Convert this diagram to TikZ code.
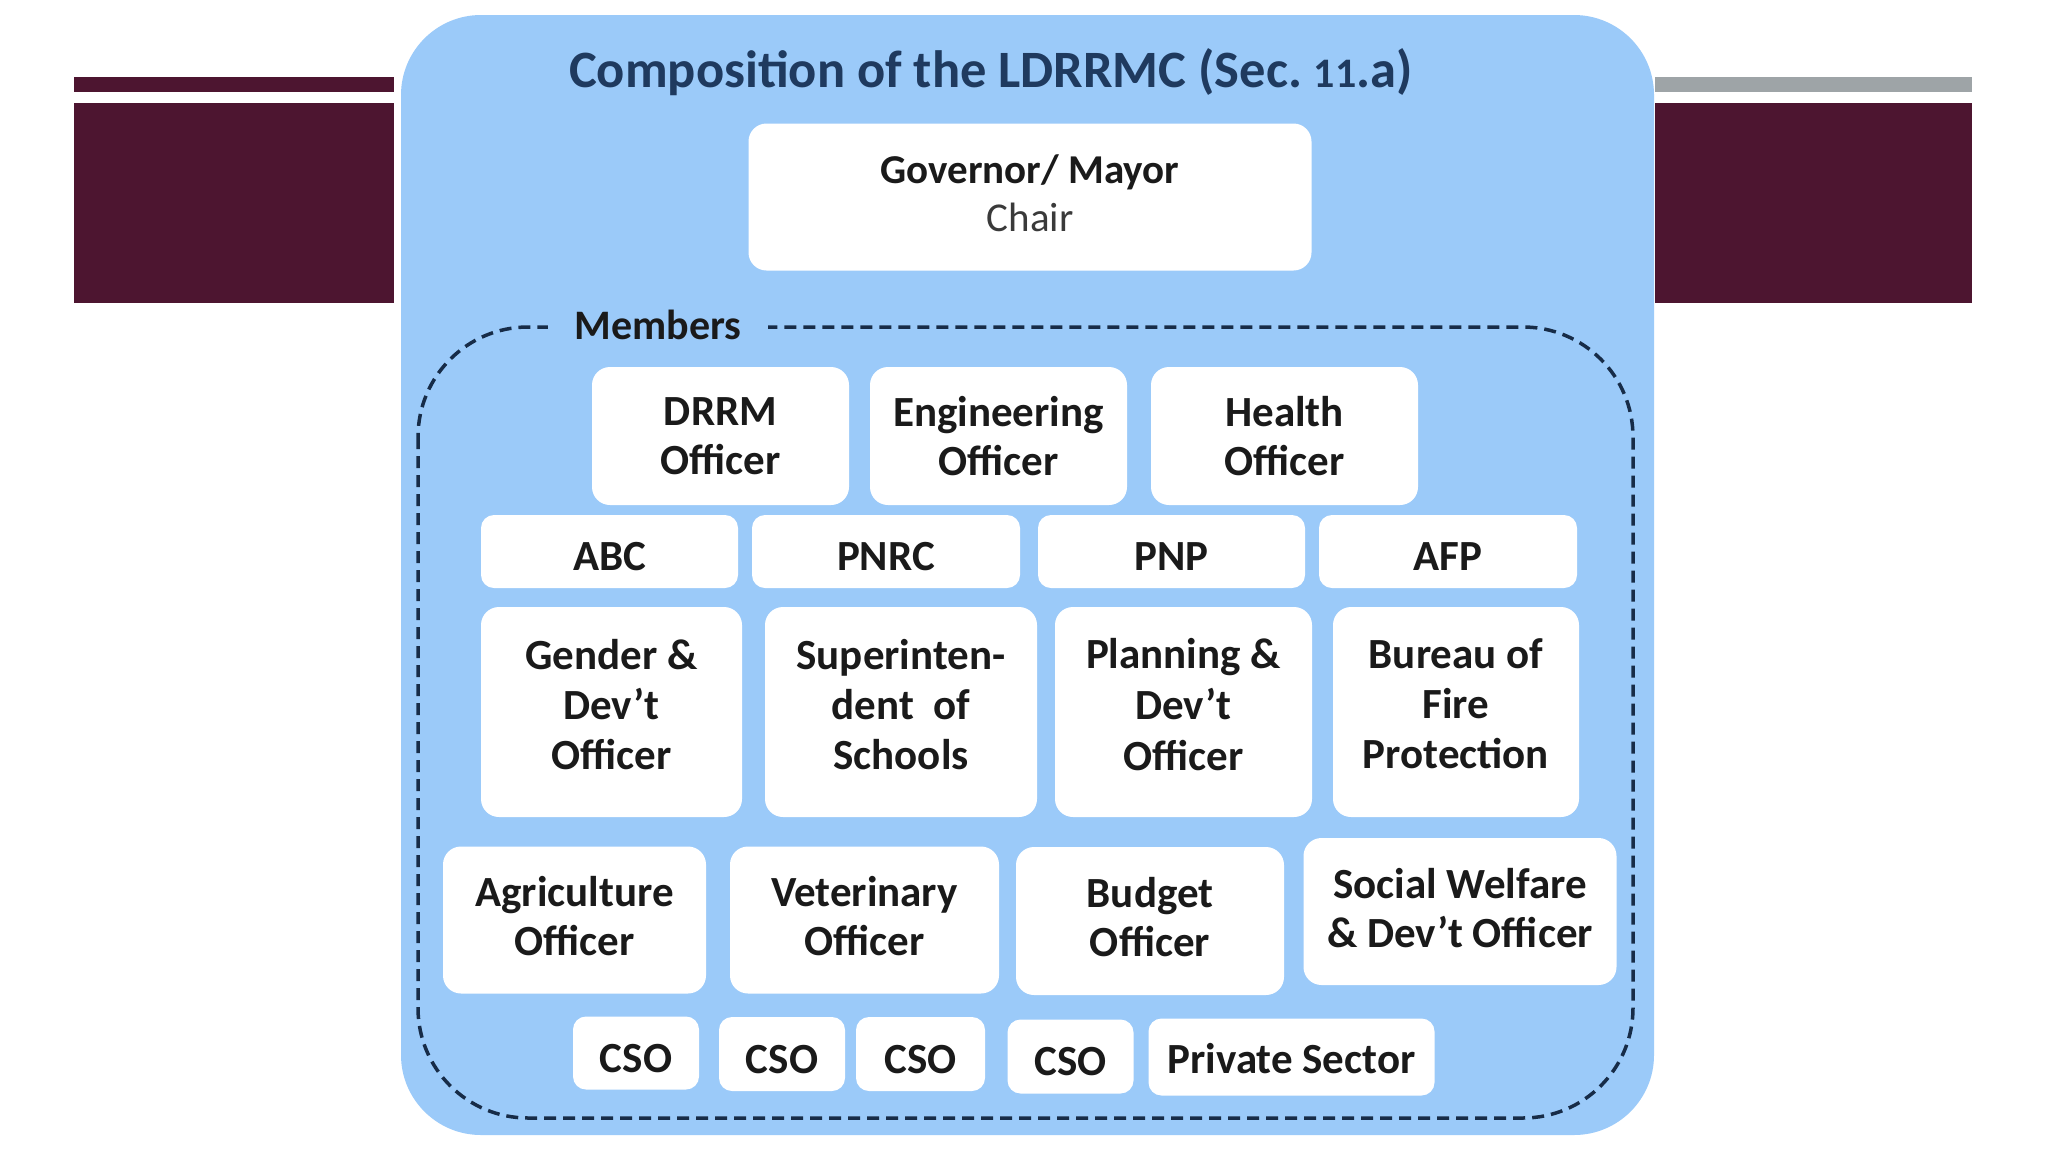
\documentclass[tikz,border=0pt]{standalone}
\usepackage{fontspec}
\setmainfont{Carlito}
\definecolor{maroon}{HTML}{4D1530}
\definecolor{barGray}{HTML}{9EA4A7}
\definecolor{panel}{HTML}{9BCAF9}
\definecolor{navy}{HTML}{1F3A5F}
\definecolor{ink}{HTML}{1A1A1A}
\definecolor{chairc}{HTML}{3A3A3A}
\definecolor{dashc}{HTML}{172C48}
\begin{document}
\frenchspacing
\begin{tikzpicture}[x=1pt,y=-1pt,
  cell/.style={fill=white, rounded corners=18pt, align=center, text=ink, inner sep=0pt,
    font=\bfseries\fontsize{43}{49}\selectfont},
  small/.style={cell, rounded corners=13pt, text height=38pt, text depth=0pt},
  tall/.style={cell, font=\bfseries\fontsize{43}{50}\selectfont, text depth=16pt},
  mid/.style={cell, text depth=8pt},
]
\useasboundingbox[fill=white] (0,0) rectangle (2048,1152);
% side decorations
\fill[maroon] (74,77) rectangle (394,92);
\fill[maroon] (74,103) rectangle (394,303);
\fill[barGray] (1655,77) rectangle (1972,92);
\fill[maroon] (1655,103) rectangle (1972,303);
% panel
\fill[panel, rounded corners=80pt] (401,15) rectangle (1654,1135);
% title
\node[font=\bfseries\fontsize{52.5}{60}\selectfont, text=navy, anchor=base, inner sep=0pt]
  (title) at (991,87) {Composition of the LDRRMC (Sec. {\fontsize{42}{42}\selectfont 11}.a)};
% chair
\node[cell, minimum width=563pt, minimum height=147pt, text depth=8pt,
  font=\bfseries\fontsize{41}{48}\selectfont]
  (gov) at (1030,197) {Governor/ Mayor\\{\mdseries\color{chairc}Chair}};
% members frame
\draw[dashc, line width=3.5pt, dash pattern=on 12pt off 7pt, rounded corners=110pt]
  (418,327) rectangle (1633,1118);
\node[fill=panel, minimum width=220pt, minimum height=44pt, inner sep=0pt, text=ink,
  font=\bfseries\fontsize{42}{49}\selectfont] (members) at (658,325) {Members};
% row 1
\node[cell, minimum width=257pt, minimum height=138pt] (drrm) at (720.5,436) {DRRM\\Officer};
\node[cell, minimum width=257pt, minimum height=138pt] (eng) at (998.5,436) {Engineering\\Officer};
\node[cell, minimum width=267pt, minimum height=138pt] (health) at (1284.5,436) {Health\\Officer};
% row 2
\node[small, minimum width=257pt, minimum height=73pt] (abc) at (609.5,551.5) {ABC};
\node[small, minimum width=268pt, minimum height=73pt] (pnrc) at (886,551.5) {PNRC};
\node[small, minimum width=267pt, minimum height=73pt] (pnp) at (1171.5,551.5) {PNP};
\node[small, minimum width=258pt, minimum height=73pt] (afp) at (1448,551.5) {AFP};
% row 3
\node[tall, minimum width=261pt, minimum height=210pt] (gad) at (611.5,712) {Gender \&\\Dev’t\\Officer};
\node[tall, minimum width=272pt, minimum height=210pt] (sup) at (901,712) {Superinten-\\dent~~of\\Schools};
\node[tall, minimum width=257pt, minimum height=210pt, font=\bfseries\fontsize{43}{51}\selectfont] (plan) at (1183.5,712) {Planning \&\\Dev’t\\Officer};
\node[tall, minimum width=246pt, minimum height=210pt] (bfp) at (1456,712) {Bureau of\\Fire\\Protection};
% row 4
\node[mid, minimum width=263pt, minimum height=147pt] (agri) at (574.5,920) {Agriculture\\Officer};
\node[mid, minimum width=269pt, minimum height=147pt] (vet) at (864.5,920) {Veterinary\\Officer};
\node[mid, minimum width=268pt, minimum height=148pt] (budget) at (1150,921) {Budget\\Officer};
\node[mid, minimum width=313pt, minimum height=147pt] (swd) at (1460,911.5) {Social Welfare\\\& Dev’t Officer};
% row 5
\node[small, minimum width=126pt, minimum height=73pt] (cso1) at (636,1053) {CSO};
\node[small, minimum width=126pt, minimum height=74pt] (cso2) at (782,1054) {CSO};
\node[small, minimum width=129pt, minimum height=74pt] (cso3) at (920.5,1054) {CSO};
\node[small, minimum width=126pt, minimum height=74pt] (cso4) at (1070.5,1056.5) {CSO};
\node[small, minimum width=286pt, minimum height=77pt, text height=33pt] (priv) at (1291.5,1057) {Private Sector};
\end{tikzpicture}
\end{document}
